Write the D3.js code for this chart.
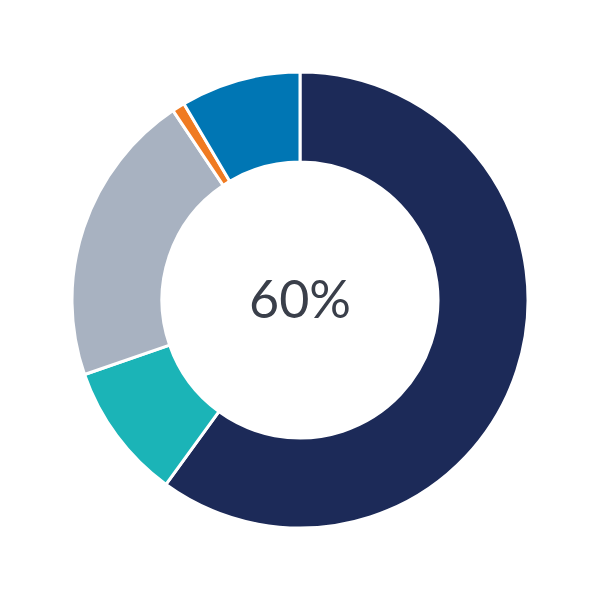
<!DOCTYPE html>
<html><head><meta charset="utf-8">
<script src="https://cdn.jsdelivr.net/npm/d3@7"></script>
<style>html,body{margin:0;padding:0;background:#fff;}</style>
</head><body>
<svg id="chart" width="600" height="600"></svg>
<script>
const categories = ["A", "B", "C", "D", "E"];
const values = [60, 9.7, 20.9, 0.9, 8.5];
const colors = ["#1c2a58", "#1bb4b7", "#a8b2c1", "#f07b22", "#0076b4"];
const centerLabel = "60%";

const svg = d3.select("#chart");
const g = svg.append("g").attr("transform", "translate(300,300)");
const pie = d3.pie().sort(null).value(d => d.v);
const arc = d3.arc().innerRadius(138).outerRadius(228);
const data = categories.map((c, i) => ({c, v: values[i]}));
const color = d3.scaleOrdinal().domain(categories).range(colors);
g.selectAll("path").data(pie(data)).join("path")
  .attr("d", arc)
  .attr("fill", d => color(d.data.c))
  .attr("stroke", "#fff")
  .attr("stroke-width", 3);
g.append("text").text(centerLabel)
  .attr("text-anchor", "middle")
  .attr("dy", "0.35em")
  .attr("font-family", "Lato")
  .attr("font-weight", 400)
  .attr("font-size", 52)
  .attr("fill", "#3a3f4a");
</script>
</body></html>
